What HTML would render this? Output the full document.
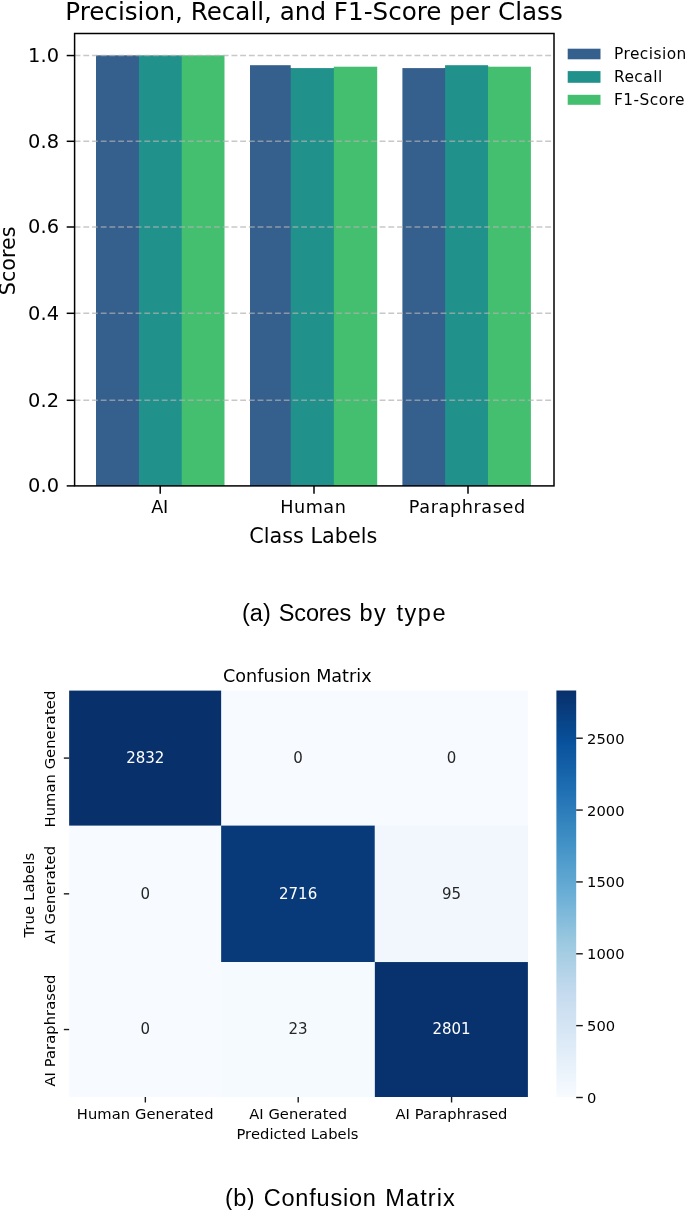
<!DOCTYPE html>
<html lang="en"><head><meta charset="utf-8"><title>Figure</title>
<style>
html,body{margin:0;padding:0;background:#fff;}
body{width:685px;height:1210px;overflow:hidden;position:relative;}
svg{position:absolute;left:0;top:0;display:block;}
text{font-family:"DejaVu Sans","Liberation Sans",sans-serif;fill:#000;}
.w{fill:#fff;}
.d{fill:#262626;}
.cap{font-family:"Liberation Sans",sans-serif;fill:#000;}
</style></head><body>
<svg width="685" height="1210" viewBox="0 0 685 1210">
<rect x="0" y="0" width="685" height="1210" fill="#ffffff"/>
<g id="bars">
<rect x="137.90" y="55.30" width="2" height="430.60" fill="#355f8d"/>
<rect x="180.70" y="55.30" width="2" height="430.60" fill="#21918c"/>
<rect x="289.70" y="68.10" width="2" height="417.80" fill="#355f8d"/>
<rect x="332.80" y="68.10" width="2" height="417.80" fill="#21918c"/>
<rect x="444.10" y="68.10" width="2" height="417.80" fill="#355f8d"/>
<rect x="487.00" y="66.70" width="2" height="419.20" fill="#21918c"/>
<rect x="96.00" y="55.30" width="42.90" height="430.60" fill="#355f8d"/>
<rect x="138.90" y="55.30" width="42.80" height="430.60" fill="#21918c"/>
<rect x="181.70" y="55.30" width="42.80" height="430.60" fill="#44bf70"/>
<rect x="250.00" y="65.20" width="40.70" height="420.70" fill="#355f8d"/>
<rect x="290.70" y="68.10" width="43.10" height="417.80" fill="#21918c"/>
<rect x="333.80" y="66.70" width="43.40" height="419.20" fill="#44bf70"/>
<rect x="402.40" y="68.10" width="42.70" height="417.80" fill="#355f8d"/>
<rect x="445.10" y="65.20" width="42.90" height="420.70" fill="#21918c"/>
<rect x="488.00" y="66.70" width="42.90" height="419.20" fill="#44bf70"/>
</g>
<g stroke="#b0b0b0" stroke-opacity="0.7" stroke-width="1.6" stroke-dasharray="5.85 2.865" fill="none">
<line x1="74.6" x2="554.0" y1="400.30" y2="400.30"/>
<line x1="74.6" x2="554.0" y1="313.30" y2="313.30"/>
<line x1="74.6" x2="554.0" y1="227.00" y2="227.00"/>
<line x1="74.6" x2="554.0" y1="141.30" y2="141.30"/>
<line x1="74.6" x2="554.0" y1="55.55" y2="55.55"/>
</g>
<rect x="74.6" y="33.5" width="479.4" height="452.4" fill="none" stroke="#000" stroke-width="1.5"/>
<g stroke="#000" stroke-width="1.5">
<line x1="66.70" x2="74.6" y1="485.90" y2="485.90"/>
<line x1="66.70" x2="74.6" y1="400.30" y2="400.30"/>
<line x1="66.70" x2="74.6" y1="313.30" y2="313.30"/>
<line x1="66.70" x2="74.6" y1="227.00" y2="227.00"/>
<line x1="66.70" x2="74.6" y1="141.30" y2="141.30"/>
<line x1="66.70" x2="74.6" y1="55.55" y2="55.55"/>
<line x1="160.2" x2="160.2" y1="485.9" y2="493.79999999999995"/>
<line x1="314.0" x2="314.0" y1="485.9" y2="493.79999999999995"/>
<line x1="468.0" x2="468.0" y1="485.9" y2="493.79999999999995"/>
</g>
<g font-size="19.4" text-anchor="end" letter-spacing="0.2">
<text x="59.4" y="492.30">0.0</text>
<text x="59.4" y="406.70">0.2</text>
<text x="59.4" y="319.70">0.4</text>
<text x="59.4" y="233.40">0.6</text>
<text x="59.4" y="147.70">0.8</text>
<text x="59.4" y="61.95">1.0</text>
</g>
<g font-size="17.64" text-anchor="middle" letter-spacing="0.4">
<text x="159.50" y="513.0" letter-spacing="-0.3">AI</text>
<text x="313.30" y="513.0" letter-spacing="0.55">Human</text>
<text x="467.30" y="513.0" letter-spacing="0.6">Paraphrased</text>
</g>
<text x="313.3" y="542.6" font-size="20.75" text-anchor="middle">Class Labels</text>
<text transform="translate(15.2 260.8) rotate(-90)" font-size="20.7" text-anchor="middle">Scores</text>
<text x="314.0" y="20.0" font-size="24.62" text-anchor="middle">Precision, Recall, and F1-Score per Class</text>
<rect x="567.7" y="48.7" width="32.8" height="10.6" fill="#355f8d"/>
<text x="614.0" y="59.4" font-size="15.4" letter-spacing="0.45">Precision</text>
<rect x="567.7" y="71.1" width="32.8" height="11.7" fill="#21918c"/>
<text x="614.0" y="82.3" font-size="15.4" letter-spacing="0.45">Recall</text>
<rect x="567.7" y="94.8" width="32.8" height="10.0" fill="#44bf70"/>
<text x="614.0" y="105.2" font-size="15.4" letter-spacing="0.45">F1-Score</text>
<rect x="69.15" y="690.6" width="458.75" height="406.40" fill="#f7fbff"/>
<g id="heat">
<rect x="69.15" y="690.60" width="152.00" height="135.00" fill="#08306b"/>
<rect x="221.15" y="825.60" width="153.70" height="136.45" fill="#083a7a"/>
<rect x="374.85" y="825.60" width="153.05" height="136.45" fill="#f1f7fd"/>
<rect x="221.15" y="962.05" width="153.70" height="134.95" fill="#f5fafe"/>
<rect x="374.85" y="962.05" width="153.05" height="134.95" fill="#08326e"/>
</g>
<g font-size="15.0" text-anchor="middle">
<text x="145.25" y="763.00" class="w">2832</text>
<text x="298.10" y="763.00" class="d">0</text>
<text x="451.48" y="763.00" class="d">0</text>
<text x="145.25" y="898.73" class="d">0</text>
<text x="298.10" y="898.73" class="w">2716</text>
<text x="451.48" y="898.73" class="d">95</text>
<text x="145.25" y="1034.43" class="d">0</text>
<text x="298.10" y="1034.43" class="d">23</text>
<text x="451.48" y="1034.43" class="w">2801</text>
</g>
<defs><linearGradient id="blues" x1="0" y1="1" x2="0" y2="0">
<stop offset="0.000%" stop-color="#f7fbff"/>
<stop offset="3.125%" stop-color="#f1f7fd"/>
<stop offset="6.250%" stop-color="#eaf3fb"/>
<stop offset="9.375%" stop-color="#e4eff9"/>
<stop offset="12.500%" stop-color="#deebf7"/>
<stop offset="15.625%" stop-color="#d8e7f5"/>
<stop offset="18.750%" stop-color="#d2e3f3"/>
<stop offset="21.875%" stop-color="#ccdff1"/>
<stop offset="25.000%" stop-color="#c6dbef"/>
<stop offset="28.125%" stop-color="#bcd7eb"/>
<stop offset="31.250%" stop-color="#b2d2e8"/>
<stop offset="34.375%" stop-color="#a8cee4"/>
<stop offset="37.500%" stop-color="#9dcae1"/>
<stop offset="40.625%" stop-color="#91c3de"/>
<stop offset="43.750%" stop-color="#84bcdb"/>
<stop offset="46.875%" stop-color="#77b5d9"/>
<stop offset="50.000%" stop-color="#6aaed6"/>
<stop offset="53.125%" stop-color="#60a7d2"/>
<stop offset="56.250%" stop-color="#56a0ce"/>
<stop offset="59.375%" stop-color="#4b98ca"/>
<stop offset="62.500%" stop-color="#4191c6"/>
<stop offset="65.625%" stop-color="#3989c1"/>
<stop offset="68.750%" stop-color="#3181bd"/>
<stop offset="71.875%" stop-color="#2979b9"/>
<stop offset="75.000%" stop-color="#2070b4"/>
<stop offset="78.125%" stop-color="#1a68ae"/>
<stop offset="81.250%" stop-color="#1460a8"/>
<stop offset="84.375%" stop-color="#0e58a2"/>
<stop offset="87.500%" stop-color="#08509b"/>
<stop offset="90.625%" stop-color="#08488e"/>
<stop offset="93.750%" stop-color="#084082"/>
<stop offset="96.875%" stop-color="#083776"/>
<stop offset="100.000%" stop-color="#08306b"/>
</linearGradient></defs>
<rect x="556.4" y="690.5" width="19.8" height="406.50" fill="url(#blues)"/>
<g stroke="#1a1a1a" stroke-width="1.4">
<line x1="576.2" x2="582.8" y1="1097.50" y2="1097.50"/>
<line x1="576.2" x2="582.8" y1="1025.64" y2="1025.64"/>
<line x1="576.2" x2="582.8" y1="953.79" y2="953.79"/>
<line x1="576.2" x2="582.8" y1="881.93" y2="881.93"/>
<line x1="576.2" x2="582.8" y1="810.07" y2="810.07"/>
<line x1="576.2" x2="582.8" y1="738.21" y2="738.21"/>
<line x1="63.85" x2="69.15" y1="758.10" y2="758.10"/>
<line x1="63.85" x2="69.15" y1="893.83" y2="893.83"/>
<line x1="63.85" x2="69.15" y1="1029.53" y2="1029.53"/>
<line x1="145.35" x2="145.35" y1="1097.0" y2="1102.5"/>
<line x1="298.20" x2="298.20" y1="1097.0" y2="1102.5"/>
<line x1="451.57" x2="451.57" y1="1097.0" y2="1102.5"/>
</g>
<g font-size="14.7">
<text x="587.1" y="1103.00">0</text>
<text x="587.1" y="1031.14">500</text>
<text x="587.1" y="959.29">1000</text>
<text x="587.1" y="887.43">1500</text>
<text x="587.1" y="815.57">2000</text>
<text x="587.1" y="743.71">2500</text>
</g>
<g font-size="14.7" text-anchor="middle" letter-spacing="0.08">
<text x="145.25" y="1118.9">Human Generated</text>
<text x="298.10" y="1118.9">AI Generated</text>
<text x="451.48" y="1118.9">AI Paraphrased</text>
<text transform="translate(54.8 759.10) rotate(-90)">Human Generated</text>
<text transform="translate(54.8 894.83) rotate(-90)">AI Generated</text>
<text transform="translate(54.8 1030.53) rotate(-90)">AI Paraphrased</text>
<text x="297.5" y="1139.1">Predicted Labels</text>
<text transform="translate(33.8 895.10) rotate(-90)" font-size="14.85">True Labels</text>
</g>
<text x="297.3" y="682.1" font-size="17.6" text-anchor="middle">Confusion Matrix</text>
<text class="cap" y="620.9" font-size="23.5"><tspan x="242.0" letter-spacing="0">(a)</tspan> <tspan x="278.8" letter-spacing="-0.15">Scores</tspan> <tspan x="359.4" letter-spacing="1.6">by</tspan> <tspan x="396.4" letter-spacing="1.6">type</tspan></text>
<text class="cap" y="1205.6" font-size="23.5"><tspan x="225.1" letter-spacing="0.4">(b)</tspan> <tspan x="263.7" letter-spacing="0.8">Confusion</tspan> <tspan x="385.3" letter-spacing="1.1">Matrix</tspan></text>
</svg></body></html>
